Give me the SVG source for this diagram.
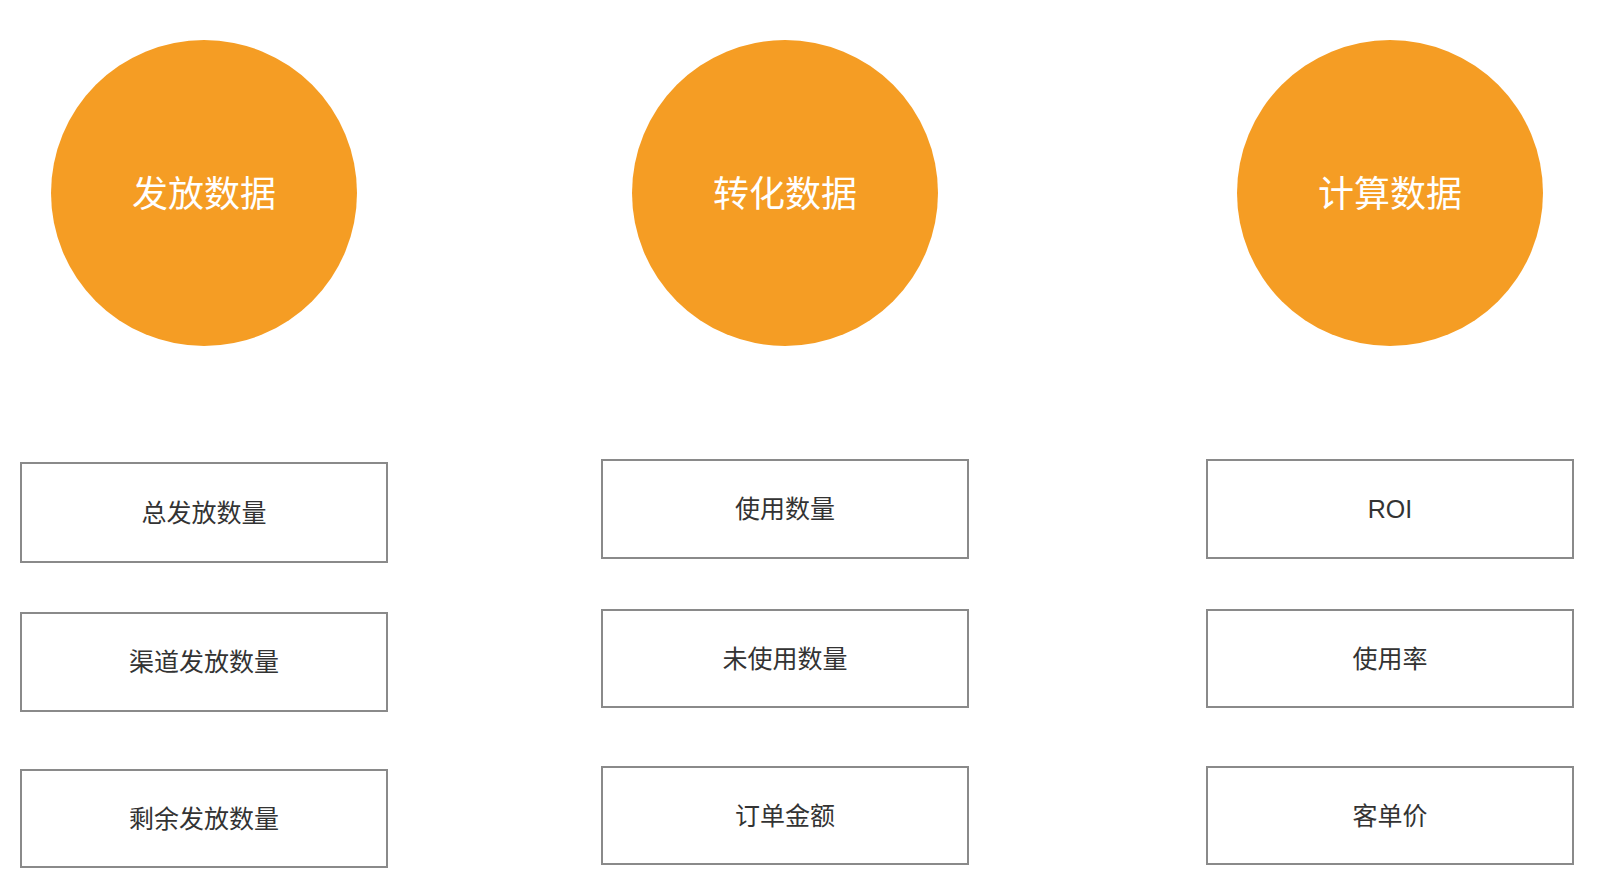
<svg xmlns="http://www.w3.org/2000/svg" width="1600" height="885" viewBox="0 0 1600 885">
<style>
.circle{fill:#F59D24;}
.ctext{fill:#ffffff;font-family:"Noto Sans CJK SC","Liberation Sans",sans-serif;font-size:36px;text-anchor:middle;dominant-baseline:central;}
.box{fill:#ffffff;stroke:#8a8a8a;stroke-width:2;}
.btext{fill:#333333;font-family:"Liberation Sans","Noto Sans CJK SC",sans-serif;font-size:25px;text-anchor:middle;dominant-baseline:central;}
</style>
<rect width="1600" height="885" fill="#ffffff"/>
<g id="connectors"></g>
<g id="c1"><circle class="circle" cx="204" cy="193" r="153"/><text class="ctext" x="204" y="191">发放数据</text></g>
<g id="c2"><circle class="circle" cx="785" cy="193" r="153"/><text class="ctext" x="785" y="191">转化数据</text></g>
<g id="c3"><circle class="circle" cx="1390" cy="193" r="153"/><text class="ctext" x="1390" y="191">计算数据</text></g>

<g id="b11"><rect class="box" x="21" y="463" width="366" height="99"/><text class="btext" x="204" y="512.5">总发放数量</text></g>
<g id="b12"><rect class="box" x="21" y="613" width="366" height="98"/><text class="btext" x="204" y="662">渠道发放数量</text></g>
<g id="b13"><rect class="box" x="21" y="770" width="366" height="97"/><text class="btext" x="204" y="818.5">剩余发放数量</text></g>

<g id="b21"><rect class="box" x="602" y="460" width="366" height="98"/><text class="btext" x="785" y="509">使用数量</text></g>
<g id="b22"><rect class="box" x="602" y="610" width="366" height="97"/><text class="btext" x="785" y="658.5">未使用数量</text></g>
<g id="b23"><rect class="box" x="602" y="767" width="366" height="97"/><text class="btext" x="785" y="815.5">订单金额</text></g>

<g id="b31"><rect class="box" x="1207" y="460" width="366" height="98"/><text class="btext" x="1390" y="509">ROI</text></g>
<g id="b32"><rect class="box" x="1207" y="610" width="366" height="97"/><text class="btext" x="1390" y="658.5">使用率</text></g>
<g id="b33"><rect class="box" x="1207" y="767" width="366" height="97"/><text class="btext" x="1390" y="815.5">客单价</text></g>
</svg>
